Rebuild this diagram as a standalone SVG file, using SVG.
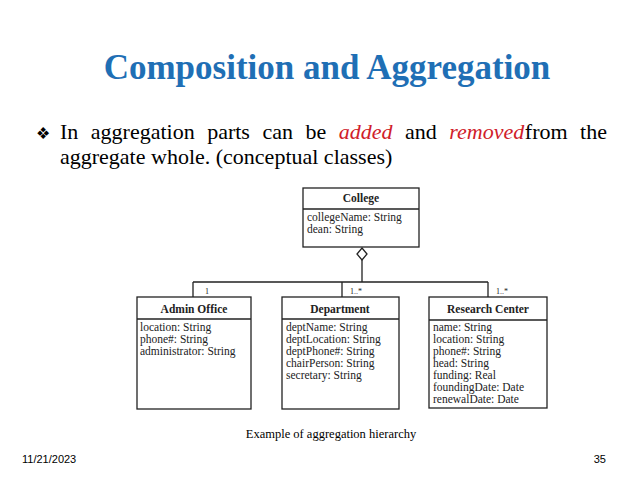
<svg xmlns="http://www.w3.org/2000/svg" width="638" height="478" viewBox="0 0 638 478">
<style>
.s{font-family:"Liberation Serif","Times New Roman",serif}
.box{fill:#fff;stroke:#222;stroke-width:1.3}
.hd{font-family:"Liberation Serif",serif;font-weight:bold;font-size:11.5px;text-anchor:middle;fill:#222}
.at{font-family:"Liberation Serif",serif;font-size:11.5px;fill:#222}
.ln{fill:none;stroke:#222;stroke-width:1.3}
.m{font-family:"Liberation Serif",serif;font-size:8px;fill:#222}
</style>
<rect width="638" height="478" fill="#fff"/>
<text class="s" x="327" y="79" font-size="35" font-weight="bold" fill="#1F6FB5" text-anchor="middle">Composition and Aggregation</text>
<text class="s" x="36" y="139" font-size="16" fill="#000">❖</text>
<text class="s" x="60" y="139" font-size="22" fill="#000" word-spacing="7">In aggregation parts can be <tspan fill="#D0202A" font-style="italic">added</tspan> and <tspan fill="#D0202A" font-style="italic">removed</tspan></text>
<text class="s" x="607" y="139" font-size="22" fill="#000" text-anchor="end" word-spacing="7">from the</text>
<text class="s" x="60" y="164" font-size="22" fill="#000">aggregate whole. (conceptual classes)</text>
<g id="connectors">
<path class="ln" d="M362,260 V282 M193,282 H488 M193,282 V297 M342,282 V297 M488,282 V297"/>
<polygon points="362,248 367,254 362,260 357,254" fill="#fff" stroke="#222" stroke-width="1.3"/>
<text class="m" x="205" y="294">1</text>
<text class="m" x="350" y="294">1..*</text>
<text class="m" x="496" y="294">1..*</text>
</g>
<g id="college">
<rect class="box" x="303" y="188" width="116" height="59"/>
<line class="ln" x1="303" y1="209" x2="419" y2="209"/>
<text class="hd" x="361" y="202">College</text>
<text class="at" x="307" y="221">collegeName: String</text>
<text class="at" x="307" y="233">dean: String</text>
</g>
<g id="admin">
<rect class="box" x="137" y="297" width="114" height="112"/>
<line class="ln" x1="137" y1="319" x2="251" y2="319"/>
<text class="hd" x="194" y="313">Admin Office</text>
<text class="at" x="140" y="331">location: String</text>
<text class="at" x="140" y="343">phone#: String</text>
<text class="at" x="140" y="355">administrator: String</text>
</g>
<g id="department">
<rect class="box" x="282" y="297" width="117" height="112"/>
<line class="ln" x1="282" y1="319" x2="399" y2="319"/>
<text class="hd" x="340" y="313">Department</text>
<text class="at" x="286" y="331">deptName: String</text>
<text class="at" x="286" y="343">deptLocation: String</text>
<text class="at" x="286" y="355">deptPhone#: String</text>
<text class="at" x="286" y="367">chairPerson: String</text>
<text class="at" x="286" y="379">secretary: String</text>
</g>
<g id="research">
<rect class="box" x="429" y="297" width="118" height="111"/>
<line class="ln" x1="429" y1="320" x2="547" y2="320"/>
<text class="hd" x="488" y="313">Research Center</text>
<text class="at" x="433" y="331">name: String</text>
<text class="at" x="433" y="343">location: String</text>
<text class="at" x="433" y="355">phone#: String</text>
<text class="at" x="433" y="367">head: String</text>
<text class="at" x="433" y="379">funding: Real</text>
<text class="at" x="433" y="391">foundingDate: Date</text>
<text class="at" x="433" y="403">renewalDate: Date</text>
</g>
<text class="s" x="331" y="438" font-size="12.5" text-anchor="middle" fill="#000">Example of  aggregation hierarchy</text>
<text x="22" y="463" font-family="Liberation Sans,sans-serif" font-size="11" fill="#000">11/21/2023</text>
<text x="606" y="463" font-family="Liberation Sans,sans-serif" font-size="11" fill="#000" text-anchor="end">35</text>
</svg>
